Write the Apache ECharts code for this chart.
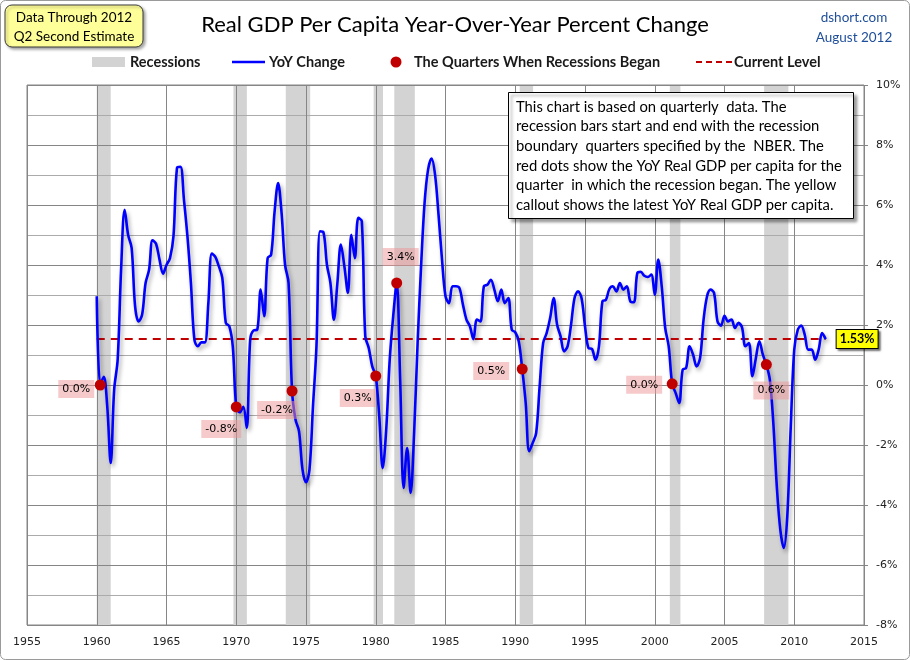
<!DOCTYPE html>
<html><head><meta charset="utf-8">
<script src="https://cdn.jsdelivr.net/npm/echarts/dist/echarts.min.js"></script>
<style>html,body{margin:0;padding:0;background:#fff}#c{width:910px;height:660px}</style>
</head><body><div id="c"></div>
<script>
// ---- data ----
const firstQuarter = 1960; // series starts 1960 Q1, quarterly
const yoyChange = [
  2.96, 0.0, 0.27, -0.7,
  -2.6, -0.15, 0.85, 3.9,
  5.84, 5.0, 4.57, 2.62,
  2.12, 2.34, 3.4, 3.84,
  4.82, 4.71, 4.18, 3.71,
  4.0, 4.23, 4.96, 7.23,
  7.27, 6.18, 4.96, 3.4,
  1.51, 1.29, 1.42, 1.42,
  2.73, 4.38, 4.27, 3.96,
  3.57, 2.07, 1.96, 1.29,
  -0.73, -0.91, -0.73, -1.43,
  1.51, 1.82, 1.84, 3.18,
  2.29, 4.23, 4.34, 5.79,
  6.73, 5.73, 4.0, 3.4,
  -0.2, -1.16, -1.54, -2.82,
  -3.24, -2.82, -0.71, 1.29,
  5.12, 5.09, 4.01, 3.4,
  2.18, 3.4, 4.68, 3.96,
  3.07, 5.01, 4.23, 5.57,
  5.46, 1.62, 1.23, 0.62,
  0.3, -1.04, -2.77, -1.49,
  0.84, 2.29, 3.4, 0.18,
  -3.43, -2.1, -3.6, -1.6,
  1.4, 3.96, 6.07, 7.18,
  7.55, 7.01, 5.68, 4.18,
  2.96, 2.73, 3.29, 3.29,
  3.23, 2.68, 2.18, 1.96,
  1.53, 2.18, 2.12, 3.29,
  3.34, 3.51, 3.18, 2.79,
  3.18, 2.73, 2.9, 1.84,
  1.76, 1.46, 0.53, -0.6,
  -2.21, -1.93, -1.6, -0.04,
  1.4, 1.73, 2.23, 2.9,
  2.01, 1.62, 1.12, 1.29,
  2.01, 2.9, 3.12, 2.9,
  1.96, 1.23, 1.2, 0.84,
  1.29, 2.79, 2.84, 3.2,
  3.29, 3.12, 3.4, 3.18,
  3.29, 2.79, 2.76, 3.73,
  3.77, 3.64, 3.6, 3.68,
  3.01, 4.18, 3.29, 1.9,
  1.29, 0.04, -0.27, -0.6,
  0.51, 0.57, 1.29, 1.01,
  0.62, 0.9, 2.18, 2.96,
  3.18, 3.07, 2.12, 1.98,
  2.31, 2.12, 2.18, 1.9,
  2.07, 1.93, 1.29, 1.4,
  0.29, 0.9, 1.46, 1.01,
  0.68, 0.18, -1.27, -3.38,
  -4.82, -5.43, -4.38, -1.38,
  1.18, 1.84, 1.98, 1.68,
  1.18, 1.18, 0.84, 1.18,
  1.73, 1.53
];
const recessionStarts = [1960.0, 1969.8, 1973.55, 1979.85, 1981.33, 1990.32, 2001.08, 2007.84];
const recessionEnds   = [1961.0, 1970.76, 1975.3, 1980.52, 1982.8, 1991.28, 2001.84, 2009.58];
const recessionStartQuarters = [1960.25, 1970.0, 1974.0, 1980.0, 1981.5, 1990.5, 2001.25, 2008.0];
const recessionStartValues = [0.0, -0.73, -0.2, 0.3, 3.4, 0.53, 0.04, 0.68];
const recessionStartLabels = ['0.0%', '-0.8%', '-0.2%', '0.3%', '3.4%', '0.5%', '0.0%', '0.6%'];
const currentLevel = 1.53;
const currentLevelFrom = 1960.0;
const currentLevelTo = 2012.25;
const xAxisRange = [1955, 2015, 5];
const yAxisRange = [-8, 10, 2];

// ---- layout (styling only) ----
const dotLabelOffsets = [[-24,4],[-15,22],[-15,19],[-18,22],[4,-26],[-31,2],[-28,1],[5,26]];

const lineData = yoyChange.map((v, i) => [firstQuarter + i / 4, v]);
const chart = echarts.init(document.getElementById('c'), null, {renderer: 'canvas'});
const F = 'Lato, "Open Sans", sans-serif';
const AX = '"DejaVu Sans", Verdana, sans-serif';

const noteText = [
  'This chart is based on quarterly  data. The',
  'recession bars start and end with the recession',
  'boundary  quarters specified by the  NBER. The',
  'red dots show the YoY Real GDP per capita for the',
  'quarter  in which the recession began. The yellow',
  'callout shows the latest YoY Real GDP per capita.'
].join('\n');

const option = {
  animation: false,
  backgroundColor: '#fff',
  grid: {left: 27, right: 46, top: 85, bottom: 35, show: true, borderColor: '#868686', borderWidth: 1, backgroundColor: '#fff', z: 0},
  xAxis: {
    type: 'value', min: xAxisRange[0], max: xAxisRange[1], interval: xAxisRange[2], z: 2,
    axisLine: {show: false}, axisTick: {show: false},
    axisLabel: {formatter: v => String(v), fontFamily: AX, fontSize: 11, color: '#222', margin: 12},
    splitLine: {show: true, lineStyle: {color: '#868686', width: 1}}
  },
  yAxis: {
    type: 'value', position: 'right', min: yAxisRange[0], max: yAxisRange[1], interval: yAxisRange[2], z: 2,
    axisLine: {show: false},
    axisTick: {show: true, length: 4, lineStyle: {color: '#868686'}},
    axisLabel: {formatter: v => v + '%', fontFamily: AX, fontSize: 11, color: '#222', margin: 12},
    splitLine: {show: true, lineStyle: {color: '#868686', width: 1}},
    minorTick: {show: false, splitNumber: 2},
    minorSplitLine: {show: true, lineStyle: {color: '#ABABAB', width: 1}}
  },
  series: [
    {
      name: 'Recessions', type: 'line', data: [], z: 1, silent: true,
      markArea: {
        silent: true,
        itemStyle: {color: '#D3D3D3'},
        data: recessionStarts.map((s, i) => [{xAxis: s}, {xAxis: recessionEnds[i]}])
      }
    },
    {
      name: 'Current Level', type: 'line', z: 4, symbol: 'none', silent: true,
      data: [[currentLevelFrom, currentLevel], [currentLevelTo, currentLevel]],
      lineStyle: {color: '#C00000', width: 2, type: [8, 6]},
      endLabel: {
        show: true, distance: 11, formatter: currentLevel.toFixed(2) + '%',
        fontFamily: F, fontWeight: 'bold', fontSize: 12.5, color: '#000',
        backgroundColor: '#FFFF00', borderColor: '#000', borderWidth: 1, padding: [3, 3, 2, 3],
        shadowColor: 'rgba(0,0,0,0.45)', shadowOffsetX: 2, shadowOffsetY: 2, shadowBlur: 2
      }
    },
    {
      name: 'YoY Change', type: 'line', z: 5, symbol: 'none', smooth: 0.35, data: lineData,
      lineStyle: {color: '#0000FF', width: 2.6, shadowColor: 'rgba(0,0,0,0.35)', shadowBlur: 4, shadowOffsetX: 2, shadowOffsetY: 3}
    },
    {
      name: 'The Quarters When Recessions Began', type: 'scatter', z: 6, symbolSize: 11,
      itemStyle: {color: '#C00000', opacity: 1},
      data: recessionStartQuarters.map((t, i) => ({
        value: [t, recessionStartValues[i]],
        label: {offset: dotLabelOffsets[i], formatter: recessionStartLabels[i]}
      })),
      label: {
        show: true, position: 'inside', fontFamily: AX, fontSize: 11, color: '#000', textBorderWidth: 0,
        backgroundColor: 'rgba(238,150,150,0.5)', padding: [4, 4, 3, 4]
      }
    }
  ],
  graphic: [
    {type: 'rect', z: 100, shape: {x: 0.5, y: 0.5, width: 909, height: 659, r: 5}, style: {fill: 'none', stroke: '#9A9A9A', lineWidth: 1}},
    {type: 'rect', z: 100, shape: {x: 5, y: 5, width: 138, height: 42, r: 7},
      style: {fill: '#FFFF99', stroke: '#3A3A3A', lineWidth: 1, shadowColor: 'rgba(0,0,0,0.35)', shadowOffsetX: 2, shadowOffsetY: 2, shadowBlur: 3}},
    {type: 'text', z: 101, style: {x: 74, y: 18, text: 'Data Through 2012', textAlign: 'center', textVerticalAlign: 'middle', font: '13.5px ' + F, fill: '#000'}},
    {type: 'text', z: 101, style: {x: 74, y: 37, text: 'Q2 Second Estimate', textAlign: 'center', textVerticalAlign: 'middle', font: '13.5px ' + F, fill: '#000'}},
    {type: 'text', z: 101, style: {x: 455, y: 25, text: 'Real GDP Per Capita Year-Over-Year Percent Change', textAlign: 'center', textVerticalAlign: 'middle', font: '22px ' + F, fill: '#000'}},
    {type: 'text', z: 101, style: {x: 854, y: 18, text: 'dshort.com', textAlign: 'center', textVerticalAlign: 'middle', font: '13.5px ' + F, fill: '#1F4E9A'}},
    {type: 'text', z: 101, style: {x: 854, y: 38, text: 'August 2012', textAlign: 'center', textVerticalAlign: 'middle', font: '13.5px ' + F, fill: '#1F4E9A'}},
    // legend
    {type: 'rect', z: 101, shape: {x: 92, y: 57, width: 33, height: 10}, style: {fill: '#D3D3D3'}},
    {type: 'text', z: 101, style: {x: 130, y: 62, text: 'Recessions', textVerticalAlign: 'middle', font: 'bold 14.5px ' + F, fill: '#1a1a1a'}},
    {type: 'line', z: 101, shape: {x1: 232, y1: 62, x2: 265, y2: 62}, style: {stroke: '#0000FF', lineWidth: 2.5}},
    {type: 'text', z: 101, style: {x: 269, y: 62, text: 'YoY Change', textVerticalAlign: 'middle', font: 'bold 14.5px ' + F, fill: '#1a1a1a'}},
    {type: 'circle', z: 101, shape: {cx: 396, cy: 62, r: 5.5}, style: {fill: '#C00000'}},
    {type: 'text', z: 101, style: {x: 414, y: 62, text: 'The Quarters When Recessions Began', textVerticalAlign: 'middle', font: 'bold 14.5px ' + F, fill: '#1a1a1a'}},
    {type: 'line', z: 101, shape: {x1: 696, y1: 62, x2: 732, y2: 62}, style: {stroke: '#C00000', lineWidth: 2, lineDash: [6, 4]}},
    {type: 'text', z: 101, style: {x: 734, y: 62, text: 'Current Level', textVerticalAlign: 'middle', font: 'bold 14.5px ' + F, fill: '#1a1a1a'}},
    // note box
    {type: 'rect', z: 100, shape: {x: 508.5, y: 92.5, width: 345, height: 126},
      style: {fill: '#fff', stroke: '#000', lineWidth: 1, shadowColor: 'rgba(0,0,0,0.4)', shadowOffsetX: 3, shadowOffsetY: 3, shadowBlur: 3}},
    {type: 'text', z: 101, style: {x: 516, y: 97, text: noteText, font: '14.8px ' + F, lineHeight: 19.7, fill: '#000'}}
  ]
};
chart.setOption(option);
</script></body></html>
